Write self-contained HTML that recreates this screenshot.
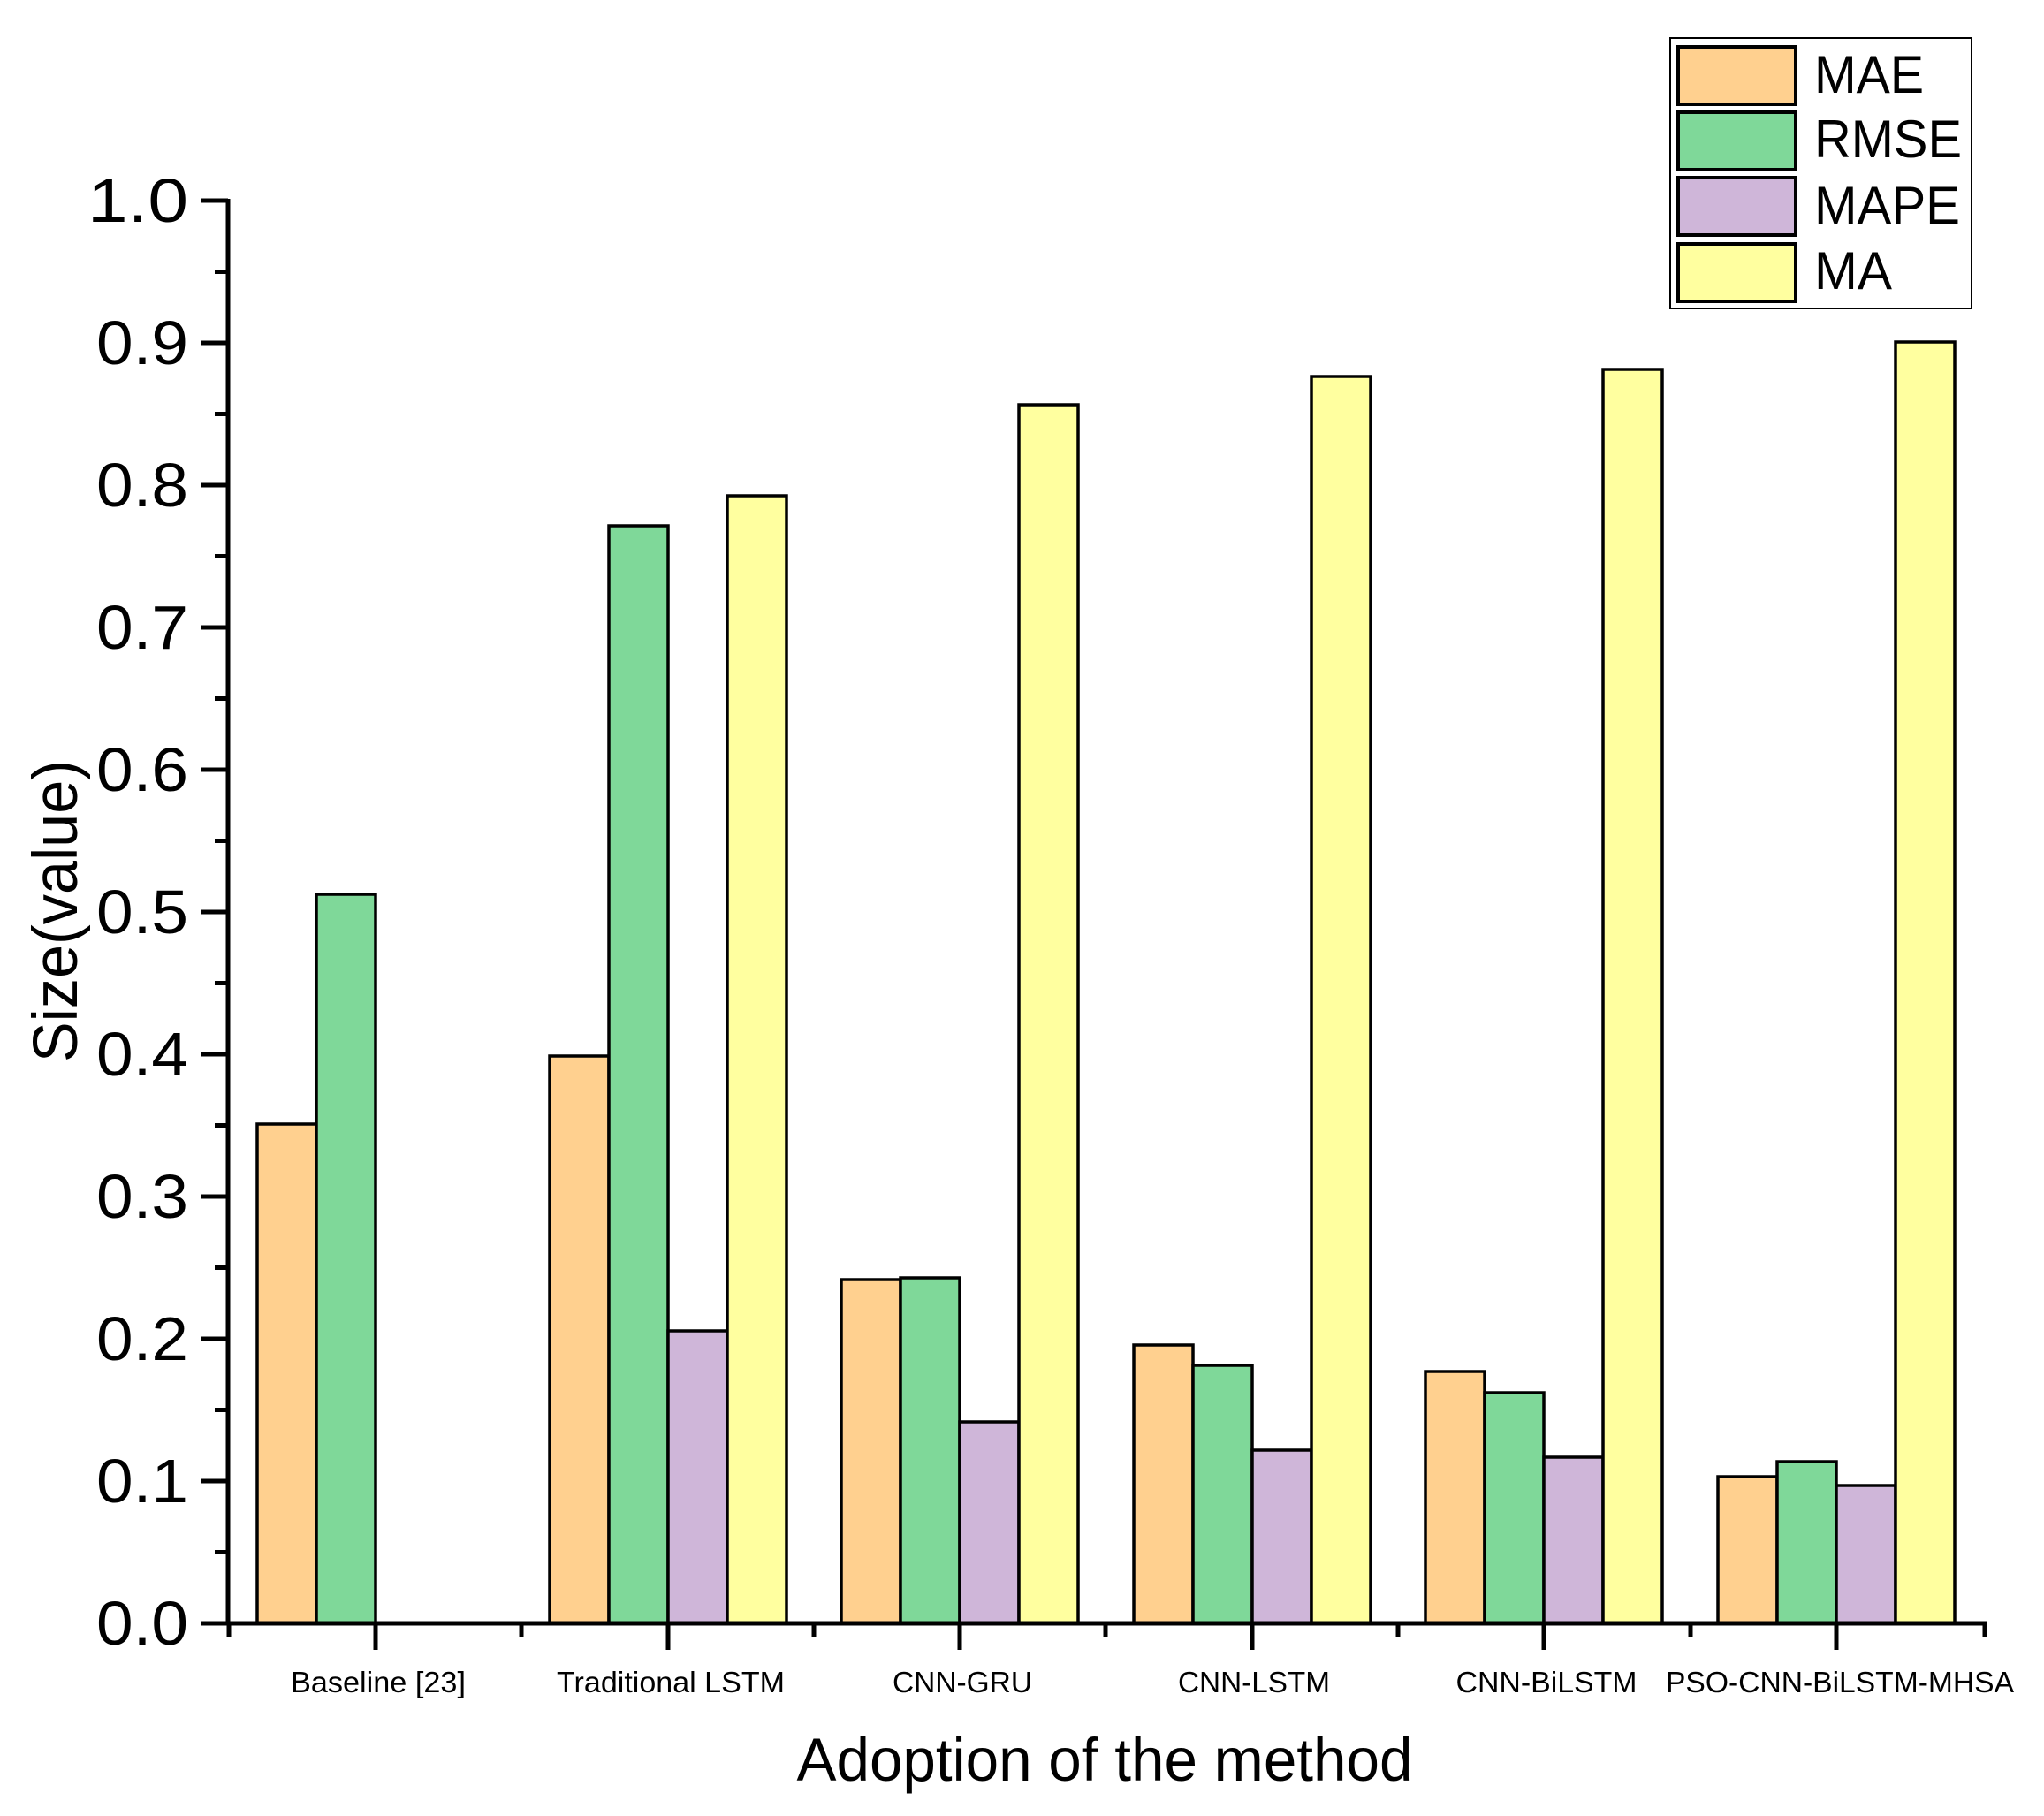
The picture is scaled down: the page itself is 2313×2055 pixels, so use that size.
<!DOCTYPE html>
<html><head><meta charset="utf-8"><style>html,body{margin:0;padding:0;background:#fff}svg{display:block}</style></head>
<body>
<svg width="2313" height="2055" viewBox="0 0 2313 2055" xmlns="http://www.w3.org/2000/svg" font-family="Liberation Sans, Arial, sans-serif">
<g stroke="#000" stroke-width="3.5">
<rect x="291" y="1272" width="67" height="565" fill="#FFD08F"/>
<rect x="358" y="1012" width="67" height="825" fill="#7FD899"/>
<rect x="622" y="1195" width="67" height="642" fill="#FFD08F"/>
<rect x="689" y="595" width="67" height="1242" fill="#7FD899"/>
<rect x="756" y="1506" width="67" height="331" fill="#CFB6D9"/>
<rect x="823" y="561" width="67" height="1276" fill="#FFFF9F"/>
<rect x="952" y="1448" width="67" height="389" fill="#FFD08F"/>
<rect x="1019" y="1446" width="67" height="391" fill="#7FD899"/>
<rect x="1086" y="1609" width="67" height="228" fill="#CFB6D9"/>
<rect x="1153" y="458" width="67" height="1379" fill="#FFFF9F"/>
<rect x="1283" y="1522" width="67" height="315" fill="#FFD08F"/>
<rect x="1350" y="1545" width="67" height="292" fill="#7FD899"/>
<rect x="1417" y="1641" width="67" height="196" fill="#CFB6D9"/>
<rect x="1484" y="426" width="67" height="1411" fill="#FFFF9F"/>
<rect x="1613" y="1552" width="67" height="285" fill="#FFD08F"/>
<rect x="1680" y="1576" width="67" height="261" fill="#7FD899"/>
<rect x="1747" y="1649" width="67" height="188" fill="#CFB6D9"/>
<rect x="1814" y="418" width="67" height="1419" fill="#FFFF9F"/>
<rect x="1944" y="1671" width="67" height="166" fill="#FFD08F"/>
<rect x="2011" y="1654" width="67" height="183" fill="#7FD899"/>
<rect x="2078" y="1681" width="67" height="156" fill="#CFB6D9"/>
<rect x="2145" y="387" width="67" height="1450" fill="#FFFF9F"/>
</g>
<g stroke="#000" stroke-width="5" fill="none">
<line x1="258" y1="225" x2="258" y2="1839"/>
<line x1="256" y1="1837" x2="2249" y2="1837"/>
</g>
<g stroke="#000" stroke-width="5">
<line x1="228" y1="1837" x2="258" y2="1837"/>
<line x1="228" y1="1676" x2="258" y2="1676"/>
<line x1="228" y1="1515" x2="258" y2="1515"/>
<line x1="228" y1="1354" x2="258" y2="1354"/>
<line x1="228" y1="1193" x2="258" y2="1193"/>
<line x1="228" y1="1032" x2="258" y2="1032"/>
<line x1="228" y1="871" x2="258" y2="871"/>
<line x1="228" y1="710" x2="258" y2="710"/>
<line x1="228" y1="549" x2="258" y2="549"/>
<line x1="228" y1="388" x2="258" y2="388"/>
<line x1="228" y1="227" x2="258" y2="227"/>
<line x1="243" y1="1756.5" x2="258" y2="1756.5"/>
<line x1="243" y1="1595.5" x2="258" y2="1595.5"/>
<line x1="243" y1="1434.5" x2="258" y2="1434.5"/>
<line x1="243" y1="1273.5" x2="258" y2="1273.5"/>
<line x1="243" y1="1112.5" x2="258" y2="1112.5"/>
<line x1="243" y1="951.5" x2="258" y2="951.5"/>
<line x1="243" y1="790.5" x2="258" y2="790.5"/>
<line x1="243" y1="629.5" x2="258" y2="629.5"/>
<line x1="243" y1="468.5" x2="258" y2="468.5"/>
<line x1="243" y1="307.5" x2="258" y2="307.5"/>
<line x1="425" y1="1837" x2="425" y2="1867"/>
<line x1="756" y1="1837" x2="756" y2="1867"/>
<line x1="1086" y1="1837" x2="1086" y2="1867"/>
<line x1="1417" y1="1837" x2="1417" y2="1867"/>
<line x1="1747" y1="1837" x2="1747" y2="1867"/>
<line x1="2078" y1="1837" x2="2078" y2="1867"/>
<line x1="259" y1="1837" x2="259" y2="1852"/>
<line x1="590" y1="1837" x2="590" y2="1852"/>
<line x1="921" y1="1837" x2="921" y2="1852"/>
<line x1="1251" y1="1837" x2="1251" y2="1852"/>
<line x1="1582" y1="1837" x2="1582" y2="1852"/>
<line x1="1913" y1="1837" x2="1913" y2="1852"/>
<line x1="2246" y1="1837" x2="2246" y2="1852"/>
</g>
<g font-size="70" text-anchor="end" fill="#000">
<text x="213" y="1861" textLength="104" lengthAdjust="spacingAndGlyphs">0.0</text>
<text x="213" y="1700" textLength="104" lengthAdjust="spacingAndGlyphs">0.1</text>
<text x="213" y="1539" textLength="104" lengthAdjust="spacingAndGlyphs">0.2</text>
<text x="213" y="1378" textLength="104" lengthAdjust="spacingAndGlyphs">0.3</text>
<text x="213" y="1217" textLength="104" lengthAdjust="spacingAndGlyphs">0.4</text>
<text x="213" y="1056" textLength="104" lengthAdjust="spacingAndGlyphs">0.5</text>
<text x="213" y="895" textLength="104" lengthAdjust="spacingAndGlyphs">0.6</text>
<text x="213" y="734" textLength="104" lengthAdjust="spacingAndGlyphs">0.7</text>
<text x="213" y="573" textLength="104" lengthAdjust="spacingAndGlyphs">0.8</text>
<text x="213" y="412" textLength="104" lengthAdjust="spacingAndGlyphs">0.9</text>
<text x="213" y="251" textLength="114" lengthAdjust="spacingAndGlyphs">1.0</text>
</g>
<g font-size="33" text-anchor="middle" fill="#000">
<text x="428" y="1915" textLength="198" lengthAdjust="spacingAndGlyphs">Baseline [23]</text>
<text x="759" y="1915" textLength="258" lengthAdjust="spacingAndGlyphs">Traditional LSTM</text>
<text x="1089" y="1915" textLength="158" lengthAdjust="spacingAndGlyphs">CNN-GRU</text>
<text x="1419" y="1915" textLength="172" lengthAdjust="spacingAndGlyphs">CNN-LSTM</text>
<text x="1750" y="1915" textLength="205" lengthAdjust="spacingAndGlyphs">CNN-BiLSTM</text>
<text x="2082" y="1915" textLength="394" lengthAdjust="spacingAndGlyphs">PSO-CNN-BiLSTM-MHSA</text>
</g>
<text x="1250" y="2015" font-size="69" text-anchor="middle" textLength="697" lengthAdjust="spacingAndGlyphs">Adoption of the method</text>
<text transform="translate(87,1031) rotate(-90)" font-size="71" text-anchor="middle" textLength="342" lengthAdjust="spacingAndGlyphs">Size(value)</text>
<rect x="1890" y="43" width="341" height="306" fill="#fff" stroke="#000" stroke-width="2"/>
<g stroke="#000" stroke-width="4">
<rect x="1899" y="53" width="133" height="65" fill="#FFD08F"/>
<rect x="1899" y="127" width="133" height="65" fill="#7FD899"/>
<rect x="1899" y="201" width="133" height="65" fill="#CFB6D9"/>
<rect x="1899" y="276" width="133" height="65" fill="#FFFF9F"/>
</g>
<g font-size="60" fill="#000">
<text x="2053" y="105" textLength="124" lengthAdjust="spacingAndGlyphs">MAE</text>
<text x="2053" y="178" textLength="167" lengthAdjust="spacingAndGlyphs">RMSE</text>
<text x="2053" y="253" textLength="165" lengthAdjust="spacingAndGlyphs">MAPE</text>
<text x="2053" y="327" textLength="88" lengthAdjust="spacingAndGlyphs">MA</text>
</g>
</svg>
</body></html>
